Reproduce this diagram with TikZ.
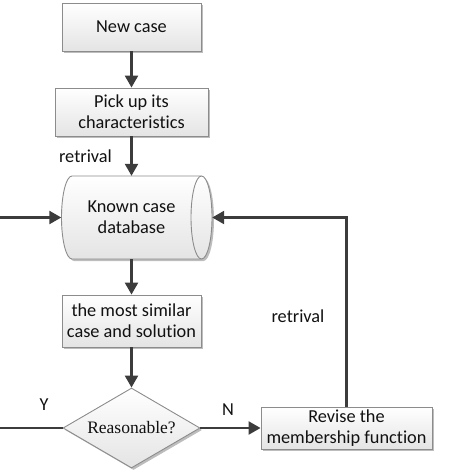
\documentclass[tikz,border=0pt]{standalone}
\usepackage{fontspec}
\setmainfont{Carlito}[Ligatures={NoCommon}]
\newfontfamily\serifrm{Liberation Serif}
\usetikzlibrary{shapes.geometric,arrows.meta,shadows}
\definecolor{boxline}{HTML}{8C8C8C}
\definecolor{boxfill}{HTML}{E4E4E4}
\definecolor{arrowc}{HTML}{3C3C3C}
\definecolor{shadowc}{HTML}{BDBDBD}
\definecolor{txt}{HTML}{111111}
\begin{document}
\begin{tikzpicture}[x=1pt,y=-1pt,
  txtfont/.style={font=\fontsize{18.3}{21}\selectfont, text=txt},
  box/.style={draw=boxline, line width=0.9pt, top color=white, bottom color=boxfill,
    drop shadow={shadow xshift=2pt,shadow yshift=-2pt,fill=shadowc,opacity=1},
    align=center, txtfont, inner sep=0pt},
  arr/.style={draw=arrowc, line width=2.4pt, -{Triangle[length=12pt,width=13pt]}},
  plain/.style={draw=arrowc, line width=2.4pt},
  lbl/.style={txtfont, inner sep=0pt}]
\useasboundingbox (0,0) rectangle (474,474);

\node[box, minimum width=139pt, minimum height=48pt] (new) at (131.5,27) {New case};
\node[box, minimum width=153pt, minimum height=48pt] (pick) at (131.5,112) {Pick up its\\characteristics};

% cylinder
\fill[shadowc] (74,178) -- (203.5,178) .. controls (209.3,178) and (214,196.6) .. (214,219.5) .. controls (214,242.4) and (209.3,261) .. (203.5,261) -- (74,261) .. controls (68.2,261) and (63.5,242.4) .. (63.5,219.5) .. controls (63.5,196.6) and (68.2,178) .. (74,178) -- cycle;
\shade[top color=white, bottom color=boxfill, draw=boxline, line width=0.9pt]
  (72,176) -- (201.5,176) .. controls (207.3,176) and (212,194.6) .. (212,217.5) .. controls (212,240.4) and (207.3,259) .. (201.5,259) -- (72,259) .. controls (66.2,259) and (61.5,240.4) .. (61.5,217.5) .. controls (61.5,194.6) and (66.2,176) .. (72,176) -- cycle;
\draw[boxline, line width=0.9pt] (201.5,176) .. controls (195.7,176) and (191,194.6) .. (191,217.5) .. controls (191,240.4) and (195.7,259) .. (201.5,259);
\node[minimum width=150.5pt, minimum height=83pt, inner sep=0pt] (db) at (136.75,217.5) {};
\node[lbl, align=center] (dbtext) at (131.5,217.5) {Known case\\database};

\node[box, minimum width=139pt, minimum height=52pt] (sim) at (131.5,321) {the most similar\\case and solution};
\node[diamond, draw=boxline, line width=0.9pt, top color=white, bottom color=boxfill,
  drop shadow={shadow xshift=2pt,shadow yshift=-2pt,fill=shadowc,opacity=1},
  minimum width=137pt, minimum height=80pt, inner sep=0pt, aspect=1.7,
  font=\serifrm\fontsize{17.5}{21}\selectfont, text=txt] (dia) at (131.5,428) {Reasonable?};
\node[box, minimum width=171pt, minimum height=42pt] (rev) at (346.5,428) {Revise the\\membership function};

\coordinate (inL) at (0,217.5);
\coordinate (yend) at (0,428);

\draw[arr] (new) -- (pick);
\draw[arr] (pick.south) -- (pick.south |- db.north);
\draw[arr] (inL) -- (db.west);
\draw[arr] (sim.north |- db.south) -- (sim.north);
\draw[arr] (sim) -- (dia);
\draw[arr] (dia) -- (rev);
\draw[plain] (dia.west) -- (yend);
\draw[arr] (rev.north) |- (db.east);

\node[lbl] (l1) at (85.5,156) {retrival};
\node[lbl] (l2) at (298,316) {retrival};
\node[lbl] (ly) at (44,405) {Y};
\node[lbl] (ln) at (228,410) {N};
\end{tikzpicture}
\end{document}
